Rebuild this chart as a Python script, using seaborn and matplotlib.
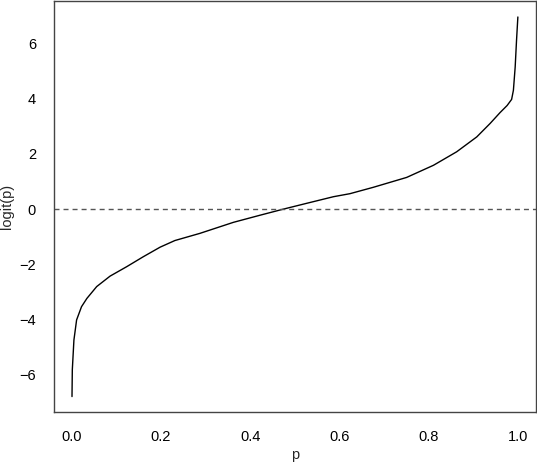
import numpy as np
import pandas as pd
import matplotlib
matplotlib.use("Agg")
from matplotlib import pyplot as plt
import seaborn as sb

# values
p_vals = [0.0007, 0.0014, 0.005, 0.011, 0.022, 0.034, 0.056, 0.086, 0.123, 0.160,
          0.198, 0.231, 0.287, 0.362, 0.422, 0.474, 0.526, 0.586, 0.623, 0.675,
          0.750, 0.810, 0.862, 0.907, 0.937, 0.959, 0.975, 0.985, 0.989, 0.993,
          0.996, 0.999]
logit_vals = [-6.80, -5.83, -4.75, -4.02, -3.54, -3.24, -2.81, -2.43, -2.09, -1.73,
              -1.38, -1.14, -0.88, -0.48, -0.22, 0.00, 0.21, 0.45, 0.56, 0.79,
              1.15, 1.59, 2.08, 2.62, 3.11, 3.50, 3.76, 3.98, 4.31, 5.16,
              6.12, 6.97]

x_ticks = [0.0, 0.2, 0.4, 0.6, 0.8, 1.0]
x_tick_labels = ["0.0", "0.2", "0.4", "0.6", "0.8", "1.0"]
y_ticks = [-6, -4, -2, 0, 2, 4, 6]
y_tick_labels = ["\u22126", "\u22124", "\u22122", "0", "2", "4", "6"]

df = pd.DataFrame({"p": p_vals, "logit": logit_vals})

sb.set_style("white")
plt.rcParams["font.family"] = ["Liberation Sans", "DejaVu Sans"]

fig = plt.figure(figsize=(5.37, 4.65), dpi=100)
ax = fig.add_axes([54 / 537, 53 / 465, 482 / 537, 411 / 465])

sb.lineplot(data=df, x="p", y="logit", sort=False, color="black", lw=1.0, ax=ax)
ax.axhline(0, color="#555555", lw=1.0, dashes=(3.6, 2.9))

ax.set_xlim(-0.0396, 1.0396)
ax.set_ylim(-7.36, 7.55)
ax.set_xticks(x_ticks)
ax.set_xticklabels(x_tick_labels)
ax.set_yticks(y_ticks)
ax.set_yticklabels(y_tick_labels)

for s in ax.spines.values():
    s.set_visible(True)
    s.set_color("#444444")
    s.set_linewidth(1.0)
ax.tick_params(axis="both", direction="out", length=6, width=1.0, color="#666666",
               labelsize=10.5, labelcolor="black")
ax.tick_params(axis="x", pad=7)
ax.tick_params(axis="y", pad=7)

ax.set_xlabel("p", fontsize=10.5, labelpad=3)
ax.set_ylabel("logit(p)", fontsize=10.5)
ax.yaxis.set_label_coords(-0.083, 0.5)

fig.savefig("out.png", dpi=100)
